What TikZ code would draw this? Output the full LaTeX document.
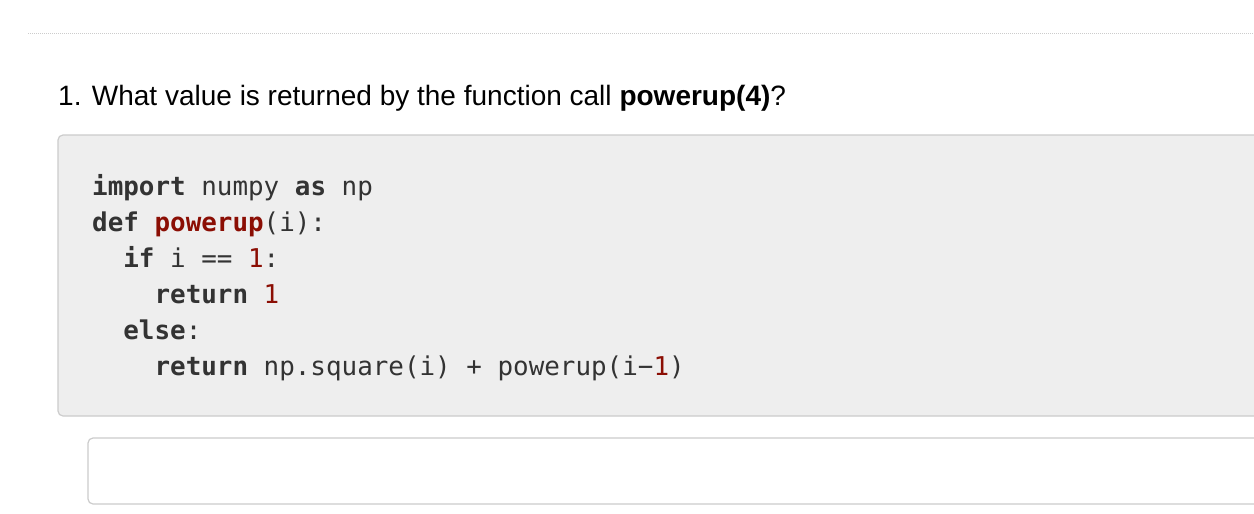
\documentclass[tikz,border=0pt]{standalone}
\usepackage{fontspec}
\setmainfont{Liberation Sans}
\newfontfamily\codefont{DejaVu Sans Mono}
\definecolor{kw}{HTML}{333333}
\definecolor{fn}{HTML}{8B0E04}
\definecolor{boxfill}{HTML}{EEEEEE}
\definecolor{boxline}{HTML}{CCCCCC}
\newcommand{\K}[1]{\textbf{\color{kw}#1}}
\newcommand{\F}[1]{\textbf{\color{fn}#1}}
\newcommand{\N}[1]{{\color{fn}#1}}
\begin{document}
\begin{tikzpicture}[x=1pt,y=-1pt,
  codeline/.style={anchor=base west,inner sep=0pt,font=\codefont\fontsize{25.9}{30}\selectfont,text=black!80},
  question/.style={anchor=base west,inner sep=0pt,font=\fontsize{28}{32}\selectfont}]
\useasboundingbox[fill=white] (0,0) rectangle (1254,514);
\coordinate (l0) at (28,33); \coordinate (l1) at (1254,33);
\draw[boxline,densely dotted,line width=1pt] (l0) -- (l1);
\node[question] (q) at (58,105) {1. What value is returned by the function call \textbf{powerup(4)}?};
\draw[boxline,fill=boxfill,line width=1.2pt,rounded corners=5pt] (58,135) rectangle (1262,416);
\node[codeline] (c1) at (92,195) {\K{import} numpy \K{as} np};
\node[codeline] (c2) at (92,231) {\K{def} \F{powerup}(i):};
\node[codeline] (c3) at (92,267) {\phantom{xx}\K{if} i == \N{1}:};
\node[codeline] (c4) at (92,303) {\phantom{xxxx}\K{return} \N{1}};
\node[codeline] (c5) at (92,339) {\phantom{xx}\K{else}:};
\node[codeline] (c6) at (92,375) {\phantom{xxxx}\K{return} np.square(i) + powerup(i−\N{1})};
\draw[boxline,fill=white,line width=1.2pt,rounded corners=5pt] (88,438) rectangle (1262,504);
\end{tikzpicture}
\end{document}
